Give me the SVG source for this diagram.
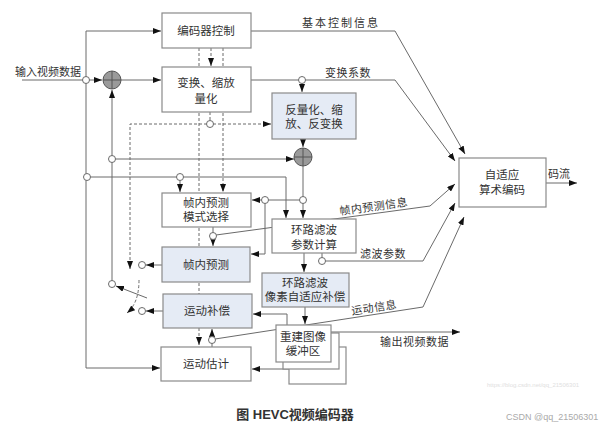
<svg xmlns="http://www.w3.org/2000/svg" width="600" height="429" viewBox="0 0 600 429">
<defs>
<marker id="ah" viewBox="0 0 8 6" refX="8" refY="3" markerWidth="8" markerHeight="6" markerUnits="userSpaceOnUse" orient="auto"><path d="M0,0 L8,3 L0,6 Z" fill="#111"/></marker>
<style>
.ln{fill:none;stroke:#6a6a6a;stroke-width:1}
.ds{fill:none;stroke:#6a6a6a;stroke-width:1;stroke-dasharray:3,2}
.bx{fill:#fff;stroke:#8a8a8a;stroke-width:1.2}
.bb{fill:#e5ebf5;stroke:#8a8a8a;stroke-width:1.2}
.jn{fill:#fff;stroke:#6a6a6a;stroke-width:1}
.ad{fill:#9a9a9a;stroke:#555;stroke-width:1}
.t{font-family:"Liberation Serif","Noto Sans CJK SC",serif;font-size:11.5px;fill:#333;text-anchor:middle}
.l{font-family:"Liberation Serif","Noto Sans CJK SC",serif;font-size:11px;fill:#333}
</style>
</defs>
<rect width="600" height="429" fill="#fff"/>

<g id="connectors">
<path class="ds" d="M199,48 V345" marker-end="url(#ah)"/>
<path class="ds" d="M223,48 V192" marker-end="url(#ah)"/>
<path class="ds" d="M211,48 V66" marker-end="url(#ah)"/>
<path class="ds" d="M210,112 V121"/>
<path class="ds" d="M207,124 H130 V269" marker-end="url(#ah)"/>
<path class="ds" d="M213,124 H271" marker-end="url(#ah)"/>
<path class="ds" d="M139,280 Q139,303 127,313" marker-end="url(#ah)"/>
<path class="ln" d="M22,80 H83"/>
<path class="ln" d="M89,80 H102" marker-end="url(#ah)"/>
<path class="ln" d="M86,77 V31 H161" marker-end="url(#ah)"/>
<path class="ln" d="M86,83 V174"/>
<path class="ln" d="M86,180 V368 H160" marker-end="url(#ah)"/>
<path class="ln" d="M90,177 H177"/>
<path class="ln" d="M183,177 H286 V218" marker-end="url(#ah)"/>
<path class="ln" d="M180,180 V192" marker-end="url(#ah)"/>
<path class="ln" d="M121,80 H161" marker-end="url(#ah)"/>
<path class="ln" d="M112,281 V162"/>
<path class="ln" d="M112,156 V90" marker-end="url(#ah)"/>
<path class="ln" d="M115,159 H294" marker-end="url(#ah)"/>
<path class="ln" d="M147,298 L116,286" marker-end="url(#ah)"/>
<path class="ln" d="M251,80 H299"/>
<path class="ln" d="M305,80 H395 L455,161" marker-end="url(#ah)"/>
<path class="ln" d="M302,83 V92" marker-end="url(#ah)"/>
<path class="ln" d="M251,31 H395 L465,154" marker-end="url(#ah)"/>
<path class="ln" d="M303,139 V147" marker-end="url(#ah)"/>
<path class="ln" d="M303,166 V197"/>
<path class="ln" d="M303,203 V218" marker-end="url(#ah)"/>
<path class="ln" d="M300,200 H268"/>
<path class="ln" d="M262,200 H252" marker-end="url(#ah)"/>
<path class="ln" d="M265,203 V254 H251" marker-end="url(#ah)"/>
<path class="ln" d="M213,227 V233"/>
<path class="ln" d="M213,239 V246" marker-end="url(#ah)"/>
<path class="ln" d="M216,235 L430,206 L455,184" marker-end="url(#ah)"/>
<path class="ln" d="M322,253 V258"/>
<path class="ln" d="M325,261 H423 L455,203" marker-end="url(#ah)"/>
<path class="ln" d="M304,253 V272" marker-end="url(#ah)"/>
<path class="ln" d="M305,307 V324" marker-end="url(#ah)"/>
<path class="ln" d="M162,265 H146" marker-end="url(#ah)"/>
<path class="ln" d="M163,311 H146" marker-end="url(#ah)"/>
<path class="ln" d="M212,347 V343"/>
<path class="ln" d="M212,337 V329" marker-end="url(#ah)"/>
<path class="ln" d="M215,339 L423,307 L464,217" marker-end="url(#ah)"/>
<path class="ln" d="M287,325 V314 H253" marker-end="url(#ah)"/>
<path class="ln" d="M289,369 H252" marker-end="url(#ah)"/>
<path class="ln" d="M331,332 H460" marker-end="url(#ah)"/>
<path class="ln" d="M546,183 H577" marker-end="url(#ah)"/>
</g>

<g id="adder1"><circle class="ad" cx="112" cy="80" r="9"/><path d="M103,80 H121 M112,71 V89" stroke="#555" stroke-width="1"/></g>
<g id="adder2"><circle class="ad" cx="303" cy="157" r="9"/><path d="M294,157 H312 M303,148 V166" stroke="#555" stroke-width="1"/></g>

<g id="junctions">
<circle class="jn" cx="86" cy="80" r="3.5"/>
<circle class="jn" cx="87" cy="177" r="3.5"/>
<circle class="jn" cx="180" cy="177" r="3.5"/>
<circle class="jn" cx="112" cy="159" r="3.5"/>
<circle class="jn" cx="210" cy="124" r="3.5"/>
<circle class="jn" cx="302" cy="80" r="3.5"/>
<circle class="jn" cx="303" cy="200" r="3.5"/>
<circle class="jn" cx="265" cy="200" r="3.5"/>
<circle class="jn" cx="213" cy="236" r="3.5"/>
<circle class="jn" cx="322" cy="261" r="3.5"/>
<circle class="jn" cx="142" cy="265" r="3.5"/>
<circle class="jn" cx="142" cy="311" r="3.5"/>
<circle class="jn" cx="112" cy="284" r="3.5"/>
<circle class="jn" cx="212" cy="340" r="3.5"/>
</g>

<g id="encoder-control"><rect class="bx" x="162" y="13" width="89" height="35"/><text class="t" x="206" y="35">编码器控制</text></g>
<g id="transform"><rect class="bx" x="162" y="67" width="89" height="45"/><text class="t" x="206" y="87">变换、缩放</text><text class="t" x="206" y="103">量化</text></g>
<g id="inverse-transform"><rect class="bb" x="272" y="93" width="84" height="46"/><text class="t" x="314" y="114">反量化、缩</text><text class="t" x="314" y="128">放、反变换</text></g>
<g id="entropy"><rect class="bx" x="459" y="158" width="87" height="49"/><text class="t" x="502" y="179">自适应</text><text class="t" x="502" y="194">算术编码</text></g>
<g id="intra-mode"><rect class="bx" x="162" y="193" width="89" height="34"/><text class="t" x="206" y="207">帧内预测</text><text class="t" x="206" y="221">模式选择</text></g>
<g id="filter-params"><rect class="bx" x="272" y="219" width="84" height="34"/><text class="t" x="314" y="234">环路滤波</text><text class="t" x="314" y="249">参数计算</text></g>
<g id="intra-pred"><rect class="bb" x="162" y="247" width="88" height="35"/><text class="t" x="206" y="269">帧内预测</text></g>
<g id="sao"><rect class="bb" x="262" y="273" width="87" height="34"/><text class="t" x="305" y="287">环路滤波</text><text class="t" x="305" y="301">像素自适应补偿</text></g>
<g id="motion-comp"><rect class="bb" x="163" y="294" width="89" height="34"/><text class="t" x="207" y="315">运动补偿</text></g>
<g id="motion-est"><rect class="bx" x="161" y="347" width="90" height="34"/><text class="t" x="206" y="368">运动估计</text></g>
<g id="frame-buffer">
<rect class="bx" x="289" y="347" width="57" height="37"/>
<rect class="bx" x="283" y="333" width="56" height="36"/>
<rect class="bx" x="276" y="325" width="55" height="37"/>
<text class="t" x="303" y="341">重建图像</text><text class="t" x="303" y="355">缓冲区</text>
</g>

<g id="labels">
<text class="l" x="15" y="76">输入视频数据</text>
<text class="l" x="302" y="27" letter-spacing="2">基本控制信息</text>
<text class="l" x="325" y="77" letter-spacing="0.5">变换系数</text>
<text class="l" x="548" y="178">码流</text>
<text class="l" x="340" y="215" transform="rotate(-7.7 340 215)" letter-spacing="0.5">帧内预测信息</text>
<text class="l" x="360" y="258" letter-spacing="0.5">滤波参数</text>
<text class="l" x="352" y="315" transform="rotate(-8.7 352 315)" letter-spacing="0.5">运动信息</text>
<text class="l" x="380" y="346" letter-spacing="0.5">输出视频数据</text>
<text x="295" y="419" font-family="'Liberation Sans','Noto Sans CJK SC',sans-serif" font-size="13" font-weight="bold" fill="#333" text-anchor="middle">图 HEVC视频编码器</text>
<text x="487" y="387" font-family="'Liberation Sans',sans-serif" font-size="6" fill="#e0e0e0">https://blog.csdn.net/qq_21506301</text>
<text x="506" y="420" font-family="'Liberation Sans','Noto Sans CJK SC',sans-serif" font-size="9" fill="#aaa">CSDN @qq_21506301</text>
</g>
</svg>
